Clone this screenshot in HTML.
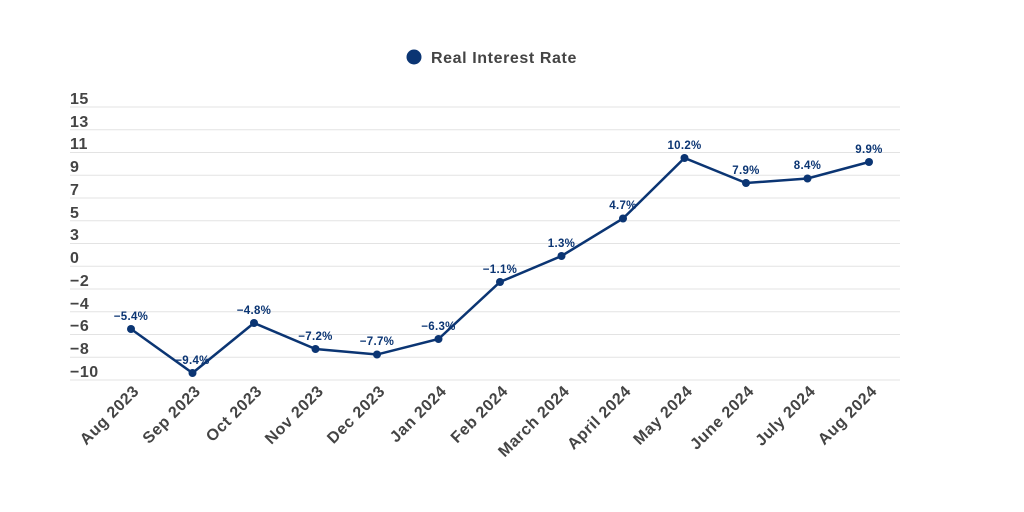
<!DOCTYPE html><html><head><style>body{margin:0;background:#fff}svg{display:block}text{font-family:"Liberation Sans",sans-serif}</style></head><body>
<svg width="1024" height="512" viewBox="0 0 1024 512">
<circle cx="414" cy="57" r="7.5" fill="#0b3573"/>
<text x="431" y="63" font-size="16" font-weight="bold" fill="#444" letter-spacing="0.6">Real Interest Rate</text>
<g stroke="#e3e3e3" stroke-width="1">
<line x1="70" x2="900" y1="107" y2="107"/><line x1="70" x2="900" y1="129.75" y2="129.75"/><line x1="70" x2="900" y1="152.5" y2="152.5"/><line x1="70" x2="900" y1="175.25" y2="175.25"/><line x1="70" x2="900" y1="198" y2="198"/><line x1="70" x2="900" y1="220.75" y2="220.75"/><line x1="70" x2="900" y1="243.5" y2="243.5"/><line x1="70" x2="900" y1="266.25" y2="266.25"/><line x1="70" x2="900" y1="289" y2="289"/><line x1="70" x2="900" y1="311.75" y2="311.75"/><line x1="70" x2="900" y1="334.5" y2="334.5"/><line x1="70" x2="900" y1="357.25" y2="357.25"/><line x1="70" x2="900" y1="380" y2="380"/>
</g>
<g font-size="16" font-weight="bold" fill="#444" letter-spacing="0.5">
<text x="70" y="104">15</text><text x="70" y="127">13</text><text x="70" y="149">11</text><text x="70" y="172">9</text><text x="70" y="195">7</text><text x="70" y="218">5</text><text x="70" y="240">3</text><text x="70" y="263">0</text><text x="70" y="286">−2</text><text x="70" y="309">−4</text><text x="70" y="331">−6</text><text x="70" y="354">−8</text><text x="70" y="377">−10</text>
</g>
<polyline fill="none" stroke="#0b3573" stroke-width="2.5" points="131,329 192.5,373 254,323 315.5,349 377,354.5 438.5,339 500,282 561.5,256 623,218.5 684.5,158 746,183 807.5,178.5 869,162"/>
<g fill="#0b3573">
<circle cx="131" cy="329" r="4"/><circle cx="192.5" cy="373" r="4"/><circle cx="254" cy="323" r="4"/><circle cx="315.5" cy="349" r="4"/><circle cx="377" cy="354.5" r="4"/><circle cx="438.5" cy="339" r="4"/><circle cx="500" cy="282" r="4"/><circle cx="561.5" cy="256" r="4"/><circle cx="623" cy="218.5" r="4"/><circle cx="684.5" cy="158" r="4"/><circle cx="746" cy="183" r="4"/><circle cx="807.5" cy="178.5" r="4"/><circle cx="869" cy="162" r="4"/>
</g>
<g font-size="11.5" font-weight="bold" fill="#0b3573" text-anchor="middle" letter-spacing="0.3">
<text x="131" y="320">−5.4%</text><text x="192.5" y="364">−9.4%</text><text x="254" y="314">−4.8%</text><text x="315.5" y="340">−7.2%</text><text x="377" y="345">−7.7%</text><text x="438.5" y="330">−6.3%</text><text x="500" y="273">−1.1%</text><text x="561.5" y="247">1.3%</text><text x="623" y="209">4.7%</text><text x="684.5" y="149">10.2%</text><text x="746" y="174">7.9%</text><text x="807.5" y="169">8.4%</text><text x="869" y="153">9.9%</text>
</g>
<g font-size="16" font-weight="bold" fill="#444" text-anchor="end" letter-spacing="0.6">
<text transform="translate(140,392) rotate(-45)">Aug 2023</text>
<text transform="translate(201.5,392) rotate(-45)">Sep 2023</text>
<text transform="translate(263,392) rotate(-45)">Oct 2023</text>
<text transform="translate(324.5,392) rotate(-45)">Nov 2023</text>
<text transform="translate(386,392) rotate(-45)">Dec 2023</text>
<text transform="translate(447.5,392) rotate(-45)">Jan 2024</text>
<text transform="translate(509,392) rotate(-45)">Feb 2024</text>
<text transform="translate(570.5,392) rotate(-45)">March 2024</text>
<text transform="translate(632,392) rotate(-45)">April 2024</text>
<text transform="translate(693.5,392) rotate(-45)">May 2024</text>
<text transform="translate(755,392) rotate(-45)">June 2024</text>
<text transform="translate(816.5,392) rotate(-45)">July 2024</text>
<text transform="translate(878,392) rotate(-45)">Aug 2024</text>
</g>
</svg></body></html>
